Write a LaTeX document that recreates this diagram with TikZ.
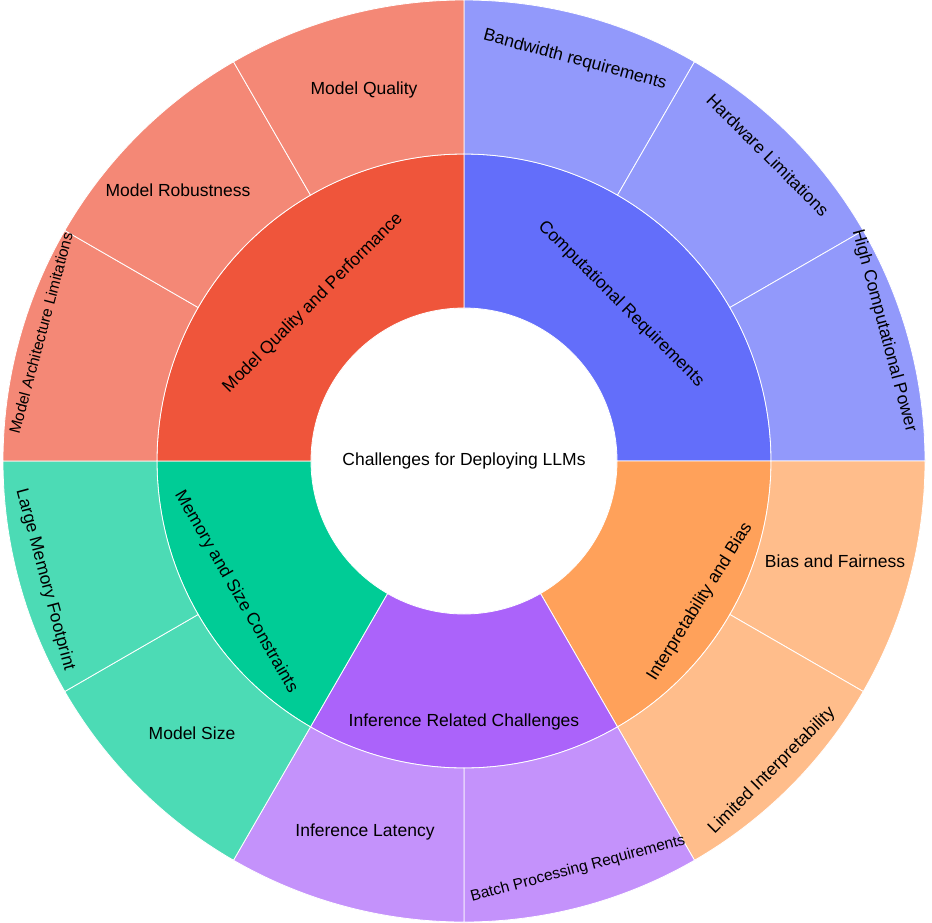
\documentclass[tikz,border=0pt]{standalone}
\usepackage{fontspec}
\setmainfont{Liberation Sans}
\definecolor{cQ}{HTML}{EF553B}
\definecolor{cC}{HTML}{636EFA}
\definecolor{cI}{HTML}{FFA15A}
\definecolor{cL}{HTML}{AB63FA}
\definecolor{cM}{HTML}{00CC96}
\tikzset{
  seg/.style={draw=white,line width=0.8pt},
  lab/.style={font=\fontsize{17.5}{20}\selectfont,inner sep=0pt},
  slab/.style={font=\fontsize{15.5}{18}\selectfont,inner sep=0pt},
}
\newcommand{\sect}[5]{% color, a1, a2, r1, r2
  \filldraw[seg,fill=#1] (#2:#4) arc[start angle=#2,end angle=#3,radius=#4] -- (#3:#5) arc[start angle=#3,end angle=#2,radius=#5] -- cycle;}
\begin{document}
\begin{tikzpicture}[x=1pt,y=1pt]
\useasboundingbox (0,0) rectangle (932,-922);
\begin{scope}[shift={(464,-461)}]
% inner ring
\sect{cC}{0}{90}{153}{307}
\sect{cI}{-60}{0}{153}{307}
\sect{cL}{-120}{-60}{153}{307}
\sect{cM}{-180}{-120}{153}{307}
\sect{cQ}{90}{180}{153}{307}
% outer ring
\sect{cC!70}{60}{90}{307}{461}
\sect{cC!70}{30}{60}{307}{461}
\sect{cC!70}{0}{30}{307}{461}
\sect{cI!70}{-30}{0}{307}{461}
\sect{cI!70}{-60}{-30}{307}{461}
\sect{cL!70}{-90}{-60}{307}{461}
\sect{cL!70}{-120}{-90}{307}{461}
\sect{cM!70}{-150}{-120}{307}{461}
\sect{cM!70}{-180}{-150}{307}{461}
\sect{cQ!70}{150}{180}{307}{461}
\sect{cQ!70}{120}{150}{307}{461}
\sect{cQ!70}{90}{120}{307}{461}
\end{scope}
\node[lab] (root) at (464,-461) {Challenges for Deploying LLMs};
\node[lab,rotate=-45] (comp) at (621,-304) {Computational Requirements};
\node[lab,rotate=58] (interp) at (700,-602) {Interpretability and Bias};
\node[lab] (infer) at (464,-722) {Inference Related Challenges};
\node[lab,rotate=-60] (mem) at (236,-592) {Memory and Size Constraints};
\node[lab,rotate=45] (qual) at (313,-303) {Model Quality and Performance};
\node[lab,rotate=-15] (bw) at (575,-60) {Bandwidth requirements};
\node[lab,rotate=-45] (hw) at (768,-155) {Hardware Limitations};
\node[lab,rotate=-75] (hcp) at (884,-331) {High Computational Power};
\node[lab] (bias) at (835,-561) {Bias and Fairness};
\node[lab,rotate=45] (li) at (772,-771) {Limited Interpretability};
\node[slab,rotate=15] (batch) at (578,-869) {Batch Processing Requirements};
\node[lab] (lat) at (365,-832) {Inference Latency};
\node[lab] (size) at (192,-733) {Model Size};
\node[lab,rotate=-75] (lmf) at (45,-580) {Large Memory Footprint};
\node[slab,rotate=75] (arch) at (41,-333) {Model Architecture Limitations};
\node[lab] (rob) at (178,-190) {Model Robustness};
\node[lab] (mq) at (364,-90) {Model Quality};
\end{tikzpicture}
\end{document}
